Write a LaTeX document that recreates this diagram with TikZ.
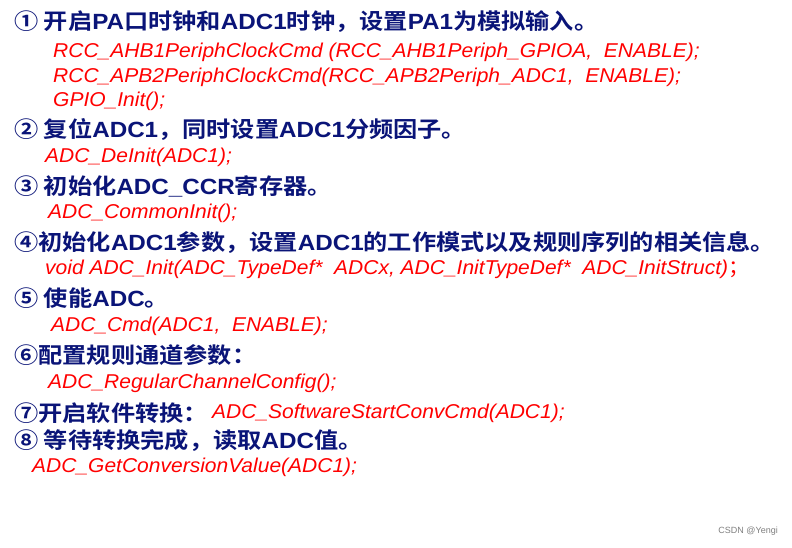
\documentclass[tikz,border=0pt]{standalone}
\usepackage{fontspec}
\setmainfont{Liberation Sans}
\newfontfamily\cjk{Noto Sans CJK SC Bold}
\newfontfamily\cjkr{Noto Sans CJK SC}
\newcommand{\la}[1]{{\rmfamily\bfseries #1}}
\definecolor{hd}{RGB}{10,20,120}
\begin{document}
\begin{tikzpicture}[x=1pt,y=1pt,
  hd/.style={anchor=west,inner sep=0pt,text=hd,font=\cjk\fontsize{22}{24}\selectfont,transform shape,xscale=1.1},
  cd/.style={anchor=west,inner sep=0pt,text=red,font=\itshape\fontsize{20}{22}\selectfont,transform shape,xscale=1.05}]
\useasboundingbox[fill=white] (0,0) rectangle (792,-547);
\node[hd] (h1) at (14,-22) {① 开启\la{PA}口时钟和\la{ADC1}时钟，设置\la{PA1}为模拟输入。};
\node[cd] (c1) at (53,-52) {RCC\_AHB1PeriphClockCmd (RCC\_AHB1Periph\_GPIOA,\ \ ENABLE);};
\node[cd] (c2) at (53,-77) {RCC\_APB2PeriphClockCmd(RCC\_APB2Periph\_ADC1,\ \ ENABLE);};
\node[cd] (c3) at (53,-101) {GPIO\_Init();};
\node[hd] (h2) at (14,-130) {② 复位\la{ADC1}，同时设置\la{ADC1}分频因子。};
\node[cd] (c4) at (45,-157) {ADC\_DeInit(ADC1);};
\node[hd] (h3) at (14,-186) {③ 初始化\la{ADC\_CCR}寄存器。};
\node[cd] (c5) at (48,-213) {ADC\_CommonInit();};
\node[hd] (h4) at (14,-243) {④初始化\la{ADC1}参数，设置\la{ADC1}的工作模式以及规则序列的相关信息。};
\node[cd] (c6) at (45,-269) {void ADC\_Init(ADC\_TypeDef*\ \ ADCx, ADC\_InitTypeDef*\ \ ADC\_InitStruct){\cjkr\upshape ；}};
\node[hd] (h5) at (14,-298) {⑤ 使能\la{ADC}。};
\node[cd] (c7) at (51,-326) {ADC\_Cmd(ADC1,\ \ ENABLE);};
\node[hd] (h6) at (14,-355) {⑥配置规则通道参数：};
\node[cd] (c8) at (48,-383) {ADC\_RegularChannelConfig();};
\node[hd] (h7) at (14,-413) {⑦开启软件转换：};
\node[cd] (c9) at (212,-413) {ADC\_SoftwareStartConvCmd(ADC1);};
\node[hd] (h8) at (14,-441) {⑧ 等待转换完成，读取\la{ADC}值。};
\node[cd] (c10) at (32,-467) {ADC\_GetConversionValue(ADC1);};
\node[anchor=east,inner sep=0pt,text=gray,font=\fontsize{9}{10}\selectfont] (wm) at (778,-531) {CSDN @Yengi};
\end{tikzpicture}
\end{document}
